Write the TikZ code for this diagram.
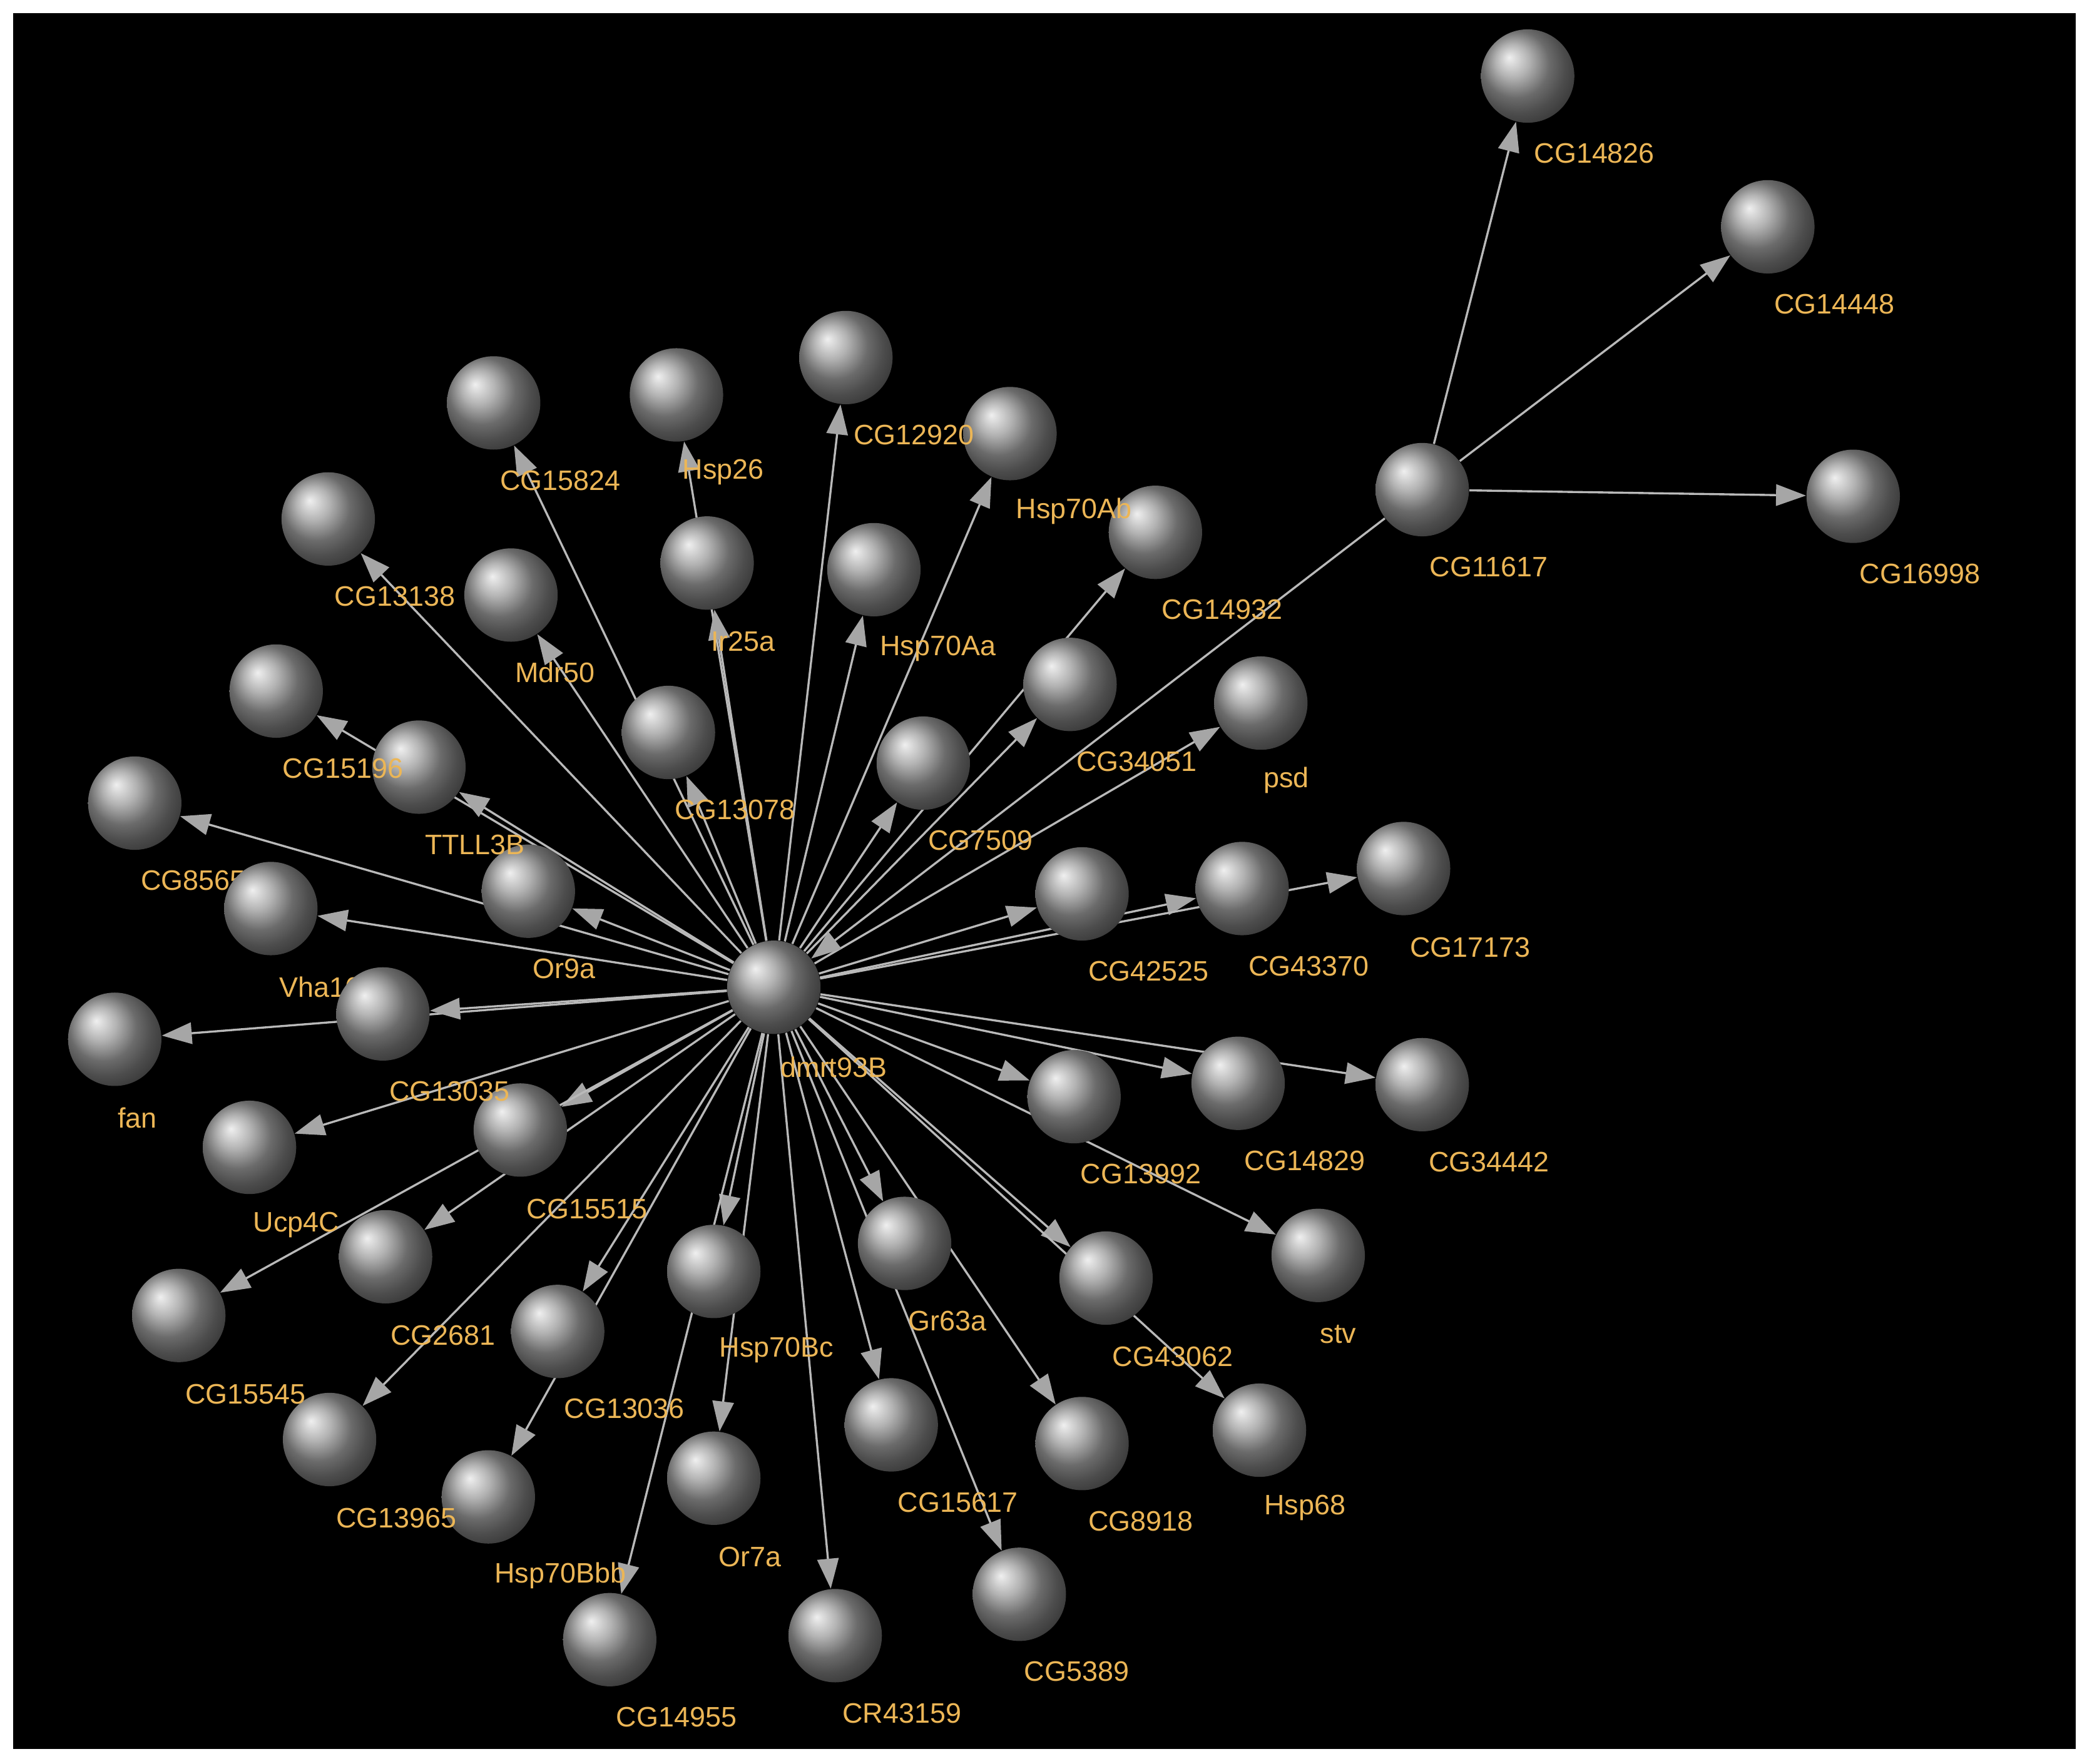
\documentclass[tikz,border=0pt]{standalone}
\usepackage{fontspec}
\setmainfont{Liberation Sans}
\usetikzlibrary{arrows.meta}
\definecolor{lblcol}{RGB}{236,182,86}
\tikzset{
 edge/.style={draw=gray!55,line width=0.9pt,-{Triangle[length=0.45cm,width=0.32cm,color=gray!70]}},
 lbl/.style={text=lblcol,font=\fontsize{12}{14}\selectfont,inner sep=0pt}
}
\begin{document}
\begin{tikzpicture}[x=0.02cm,y=-0.02cm]
\useasboundingbox (0,0) rectangle (1568,1322);
\fill[white] (0,0) rectangle (1568,1322);
\fill[black] (10,10) rectangle (1556,1311);
\def\nodelist{dmrt/580/740/625/800/dmrt93B,
a1/1145/57/1195/115/CG14826, a2/1325/170/1375/228/CG14448, hub/1066/367/1116/425/CG11617, a3/1389/372/1439/430/CG16998,
b1/370/302/420/360/CG15824, b2/507/296/542/354/Hsp26, b3/634/268/685/326/CG12920, b4/757/325/805/383/Hsp70Ab,
b5/246/389/296/447/CG13138, b6/383/446/416/504/Mdr50, b7/530/422/557/481/Ir25a, b8/655/427/703/486/Hsp70Aa,
b9/866/399/916/457/CG14932, c1/207/518/257/576/CG15196, c2/314/575/356/633/TTLL3B, c3/501/549/551/607/CG13078,
c4/692/572/735/630/CG7509, c5/802/513/852/571/CG34051, c6/945/527/964/585/psd, c7/101/602/145/660/CG8565,
c8/203/681/240/740/Vha16, c9/396/668/423/726/Or9a, d1/86/779/103/838/fan, d2/287/760/337/818/CG13035,
d3/811/670/861/728/CG42525, d4/931/666/981/724/CG43370, d5/1052/651/1102/710/CG17173,
e1/187/860/222/918/Ucp4C, e2/390/847/440/906/CG15515, e3/805/822/855/880/CG13992, e4/928/812/978/870/CG14829,
e5/1066/813/1116/871/CG34442, f1/289/942/332/1001/CG2681, f2/134/986/184/1045/CG15545, f3/418/998/468/1056/CG13036,
f4/535/953/582/1012/Hsp70Bc, f5/678/932/710/990/Gr63a, f6/829/958/879/1017/CG43062, f7/988/941/1003/1000/stv,
g1/247/1079/297/1138/CG13965, g2/366/1122/420/1181/Hsp70Bbb, g3/535/1108/562/1167/Or7a, g4/668/1068/718/1126/CG15617,
g5/811/1082/855/1140/CG8918, g6/944/1072/978/1130/Hsp68, h1/457/1229/507/1287/CG14955, h2/626/1226/676/1284/CR43159,
h3/764/1195/807/1253/CG5389}
\def\skipA{c7}\def\skipB{c8}
\node[lbl] (lc7) at (145,660) {CG8565};
\node[lbl] (lc8) at (240,740) {Vha16};
\foreach \n/\x/\y/\lx/\ly/\t in \nodelist {
  \node[circle,minimum size=1.4cm,inner sep=0pt] (N\n) at (\x,\y) {};
}
\foreach \m in {b1,b2,b3,b4,b5,b6,b7,b8,b9,c1,c2,c3,c4,c5,c6,c7,c8,c9,d1,d2,d3,d4,d5,e1,e2,e3,e4,e5,f1,f2,f3,f4,f5,f6,f7,g1,g2,g3,g4,g5,g6,h1,h2,h3}
  \draw[edge] (Ndmrt) -- (N\m);
\draw[edge] (Nhub) -- (Ndmrt);
\foreach \m in {a1,a2,a3} \draw[edge] (Nhub) -- (N\m);
\foreach \n/\x/\y/\lx/\ly/\t in \nodelist { \shade[ball color=gray!80!white] (\x,\y) circle (35); }
\foreach \n/\x/\y/\lx/\ly/\t in \nodelist {
  \edef\cur{\n}
  \ifx\cur\skipA\else\ifx\cur\skipB\else\node[lbl] (l\n) at (\lx,\ly) {\t};\fi\fi
}
\end{tikzpicture}
\end{document}
